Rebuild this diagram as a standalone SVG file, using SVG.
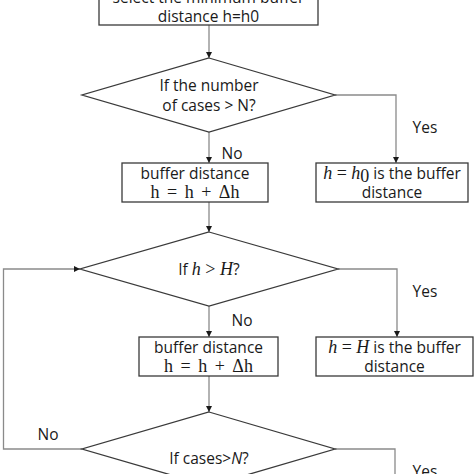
<svg xmlns="http://www.w3.org/2000/svg" width="474" height="474" viewBox="0 0 474 474">
<defs>
<style>
.box{fill:#fff;stroke:#3a3a3a;stroke-width:1.3}
.con{fill:none;stroke:#8a8a8a;stroke-width:1.3}
.t{font-family:"Open Sans","Liberation Sans",sans-serif;font-size:15.5px;fill:#1a1a1a;text-anchor:middle}
.m{font-family:"Liberation Serif",serif;font-size:18px;fill:#1a1a1a}
.i{font-style:italic}
</style>
<marker id="ah" viewBox="0 0 10 10" refX="10" refY="5" markerWidth="6" markerHeight="6" orient="auto" markerUnits="userSpaceOnUse">
<path d="M0,0 L10,5 L0,10 z" fill="#1a1a1a"/>
</marker>
</defs>
<rect width="474" height="474" fill="#fff"/>
<g id="connectors">
<path class="con" d="M209,25 V58" marker-end="url(#ah)"/>
<path class="con" d="M209,132 V163" marker-end="url(#ah)"/>
<path class="con" d="M335,95 H396 V163" marker-end="url(#ah)"/>
<path class="con" d="M209,202 V232" marker-end="url(#ah)"/>
<path class="con" d="M209,306 V337" marker-end="url(#ah)"/>
<path class="con" d="M338,269 H397 V337" marker-end="url(#ah)"/>
<path class="con" d="M209,376 V412" marker-end="url(#ah)"/>
<path class="con" d="M82,449 H3.5 V269 H80" marker-end="url(#ah)"/>
<path class="con" d="M335,449 H395 V480"/>
<text class="t" x="232" y="159">No</text>
<text class="t" x="425" y="133">Yes</text>
<text class="t" x="242" y="326">No</text>
<text class="t" x="425" y="297">Yes</text>
<text class="t" x="48" y="440">No</text>
<text class="t" x="425" y="477">Yes</text>
</g>
<g id="start">
<rect class="box" x="99" y="-20" width="219" height="45"/>
<text class="t" x="208.5" y="3">select the minimum buffer</text>
<text class="t" x="208.5" y="22">distance h=h0</text>
</g>
<g id="decision1">
<polygon class="box" points="209,58 335,95 209,132 82,95"/>
<text class="t" x="209" y="91">If the number</text>
<text class="t" x="209" y="111">of cases &gt; N?</text>
</g>
<g id="step1">
<rect class="box" x="122" y="163" width="146" height="39"/>
<text class="t" x="195" y="179">buffer distance</text>
<text class="m" x="195" y="198" text-anchor="middle" word-spacing="3">h = h + Δh</text>
</g>
<g id="result1">
<rect class="box" x="316" y="163" width="152" height="39"/>
<text class="t" x="392" y="179"><tspan class="m i">h</tspan><tspan class="m"> =  </tspan><tspan class="m i">h</tspan><tspan class="m" font-size="10" dy="3">0</tspan><tspan dy="-3"> is the buffer</tspan></text>
<text class="t" x="392" y="198">distance</text>
</g>
<g id="decision2">
<polygon class="box" points="209,232 338,269 209,306 80,269"/>
<text class="t" x="209" y="275">If  <tspan class="m i">h</tspan><tspan class="m"> &gt; </tspan><tspan class="m i">H</tspan>?</text>
</g>
<g id="step2">
<rect class="box" x="139" y="337" width="139" height="39"/>
<text class="t" x="208.5" y="353">buffer distance</text>
<text class="m" x="208.5" y="372" text-anchor="middle" word-spacing="3">h = h + Δh</text>
</g>
<g id="result2">
<rect class="box" x="316" y="337" width="157" height="39"/>
<text class="t" x="394.5" y="353"><tspan class="m i">h</tspan><tspan class="m"> = </tspan><tspan class="m i">H</tspan> is the buffer</text>
<text class="t" x="394.5" y="372">distance</text>
</g>
<g id="decision3">
<polygon class="box" points="209,412 335,449 209,486 82,449"/>
<text class="t" x="209" y="464">If cases&gt;<tspan font-style="italic">N</tspan>?</text>
</g>
</svg>
